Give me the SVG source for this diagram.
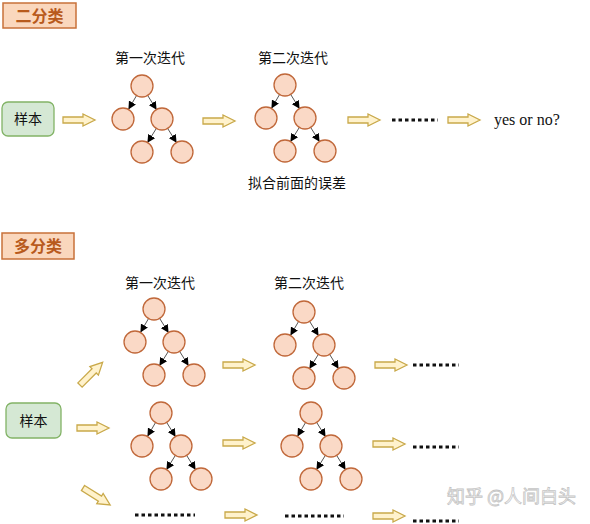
<svg xmlns="http://www.w3.org/2000/svg" xmlns:xlink="http://www.w3.org/1999/xlink" width="590" height="524" viewBox="0 0 590 524">
<defs>
<style>
.title{fill:#fad7bd;stroke:#c8713a;stroke-width:1.5}
.titletxt{font-family:"Noto Sans CJK SC",sans-serif;font-weight:bold;font-size:16px;fill:#b85a1c;text-anchor:middle}
.sample{fill:#d5e8d4;stroke:#82b366;stroke-width:1.3}
.cn{font-family:"Noto Sans CJK SC",sans-serif;font-size:14px;fill:#111;text-anchor:middle}
.node{fill:#fad9c6;stroke:#c0683a;stroke-width:1.3}
.edge{stroke:#555;stroke-width:1;fill:none;marker-end:url(#ah)}
.barrow{fill:#fff2cc;stroke:#c9a94a;stroke-width:1.3}
.dots{stroke:#111;stroke-width:3;stroke-dasharray:3.5 3;fill:none}
</style>
<marker id="ah" viewBox="0 0 10 10" refX="10" refY="5" markerWidth="8" markerHeight="8" markerUnits="userSpaceOnUse" orient="auto">
<path d="M0,0 L10,5 L0,10 Z" fill="#000"/>
</marker>
<path id="barrow" class="barrow" d="M0,-3 H20 V-6 L32,0 L20,6 V3 H0 Z"/>
<g id="tree">
<g class="edges">
<line class="edge" x1="-5.2" y1="9.1" x2="-13.6" y2="23.5"/>
<line class="edge" x1="5.4" y1="9" x2="14.6" y2="23.8"/>
<line class="edge" x1="14.6" y1="42" x2="5.4" y2="56.8"/>
<line class="edge" x1="25.4" y1="42" x2="34.6" y2="56.8"/>
</g>
<circle class="node" cx="0" cy="0" r="11"/>
<circle class="node" cx="-19" cy="33" r="11"/>
<circle class="node" cx="20" cy="33" r="11"/>
<circle class="node" cx="0" cy="66" r="11"/>
<circle class="node" cx="40" cy="66" r="11"/>
</g>
</defs>

<!-- Section 1 -->
<g id="title1"><rect class="title" x="3" y="3" width="73" height="25"/><text class="titletxt" x="39.5" y="21.5">二分类</text></g>
<g id="sample1"><rect class="sample" x="2" y="102" width="52" height="34" rx="6"/><text class="cn" x="28" y="124">样本</text></g>
<g id="label-it1"><text class="cn" x="150" y="63">第一次迭代</text></g>
<g id="label-it2"><text class="cn" x="293" y="63">第二次迭代</text></g>
<g id="label-fit"><text class="cn" x="297" y="188">拟合前面的误差</text></g>
<g id="tree1"><use xlink:href="#tree" transform="translate(142,86)"/></g>
<g id="tree2"><use xlink:href="#tree" transform="translate(285,85)"/></g>
<g id="answer"><text x="494" y="125" font-family="Liberation Serif, serif" font-size="16" fill="#111">yes or no?</text></g>

<!-- Section 2 -->
<g id="title2"><rect class="title" x="2" y="233" width="72" height="26"/><text class="titletxt" x="38" y="252">多分类</text></g>
<g id="sample2"><rect class="sample" x="6" y="403" width="55" height="35" rx="6"/><text class="cn" x="33.5" y="426">样本</text></g>
<g id="label-m-it1"><text class="cn" x="160" y="288">第一次迭代</text></g>
<g id="label-m-it2"><text class="cn" x="309" y="288">第二次迭代</text></g>
<g id="tree3"><use xlink:href="#tree" transform="translate(154,309)"/></g>
<g id="tree4"><use xlink:href="#tree" transform="translate(304,312)"/></g>
<g id="tree5"><use xlink:href="#tree" transform="translate(161,413)"/></g>
<g id="tree6"><use xlink:href="#tree" transform="translate(311,413)"/></g>

<g id="connectors">
<use xlink:href="#barrow" transform="translate(63,120)"/>
<use xlink:href="#barrow" transform="translate(203,121)"/>
<use xlink:href="#barrow" transform="translate(348,120)"/>
<use xlink:href="#barrow" transform="translate(448,120)"/>
<line class="dots" x1="392" y1="120" x2="438" y2="120"/>

<use xlink:href="#barrow" transform="translate(80,385) rotate(-45)"/>
<use xlink:href="#barrow" transform="translate(77,428)"/>
<use xlink:href="#barrow" transform="translate(83,488) rotate(32)"/>

<use xlink:href="#barrow" transform="translate(223,365)"/>
<use xlink:href="#barrow" transform="translate(375,365)"/>
<line class="dots" x1="413" y1="365" x2="459" y2="365"/>

<use xlink:href="#barrow" transform="translate(223,443)"/>
<use xlink:href="#barrow" transform="translate(373,444)"/>
<line class="dots" x1="413" y1="447" x2="459" y2="447"/>

<line class="dots" x1="135" y1="515" x2="195" y2="515"/>
<use xlink:href="#barrow" transform="translate(225,515)"/>
<line class="dots" x1="285" y1="516" x2="344" y2="516"/>
<use xlink:href="#barrow" transform="translate(373,516)"/>
<line class="dots" x1="413" y1="521" x2="459" y2="521"/>
</g>

<g id="watermark"><text x="447" y="503" font-family="Noto Sans CJK SC, sans-serif" font-size="18" fill="#ffffff" stroke="#c4c4c4" stroke-width="0.8">知乎 @人间白头</text></g>
</svg>
